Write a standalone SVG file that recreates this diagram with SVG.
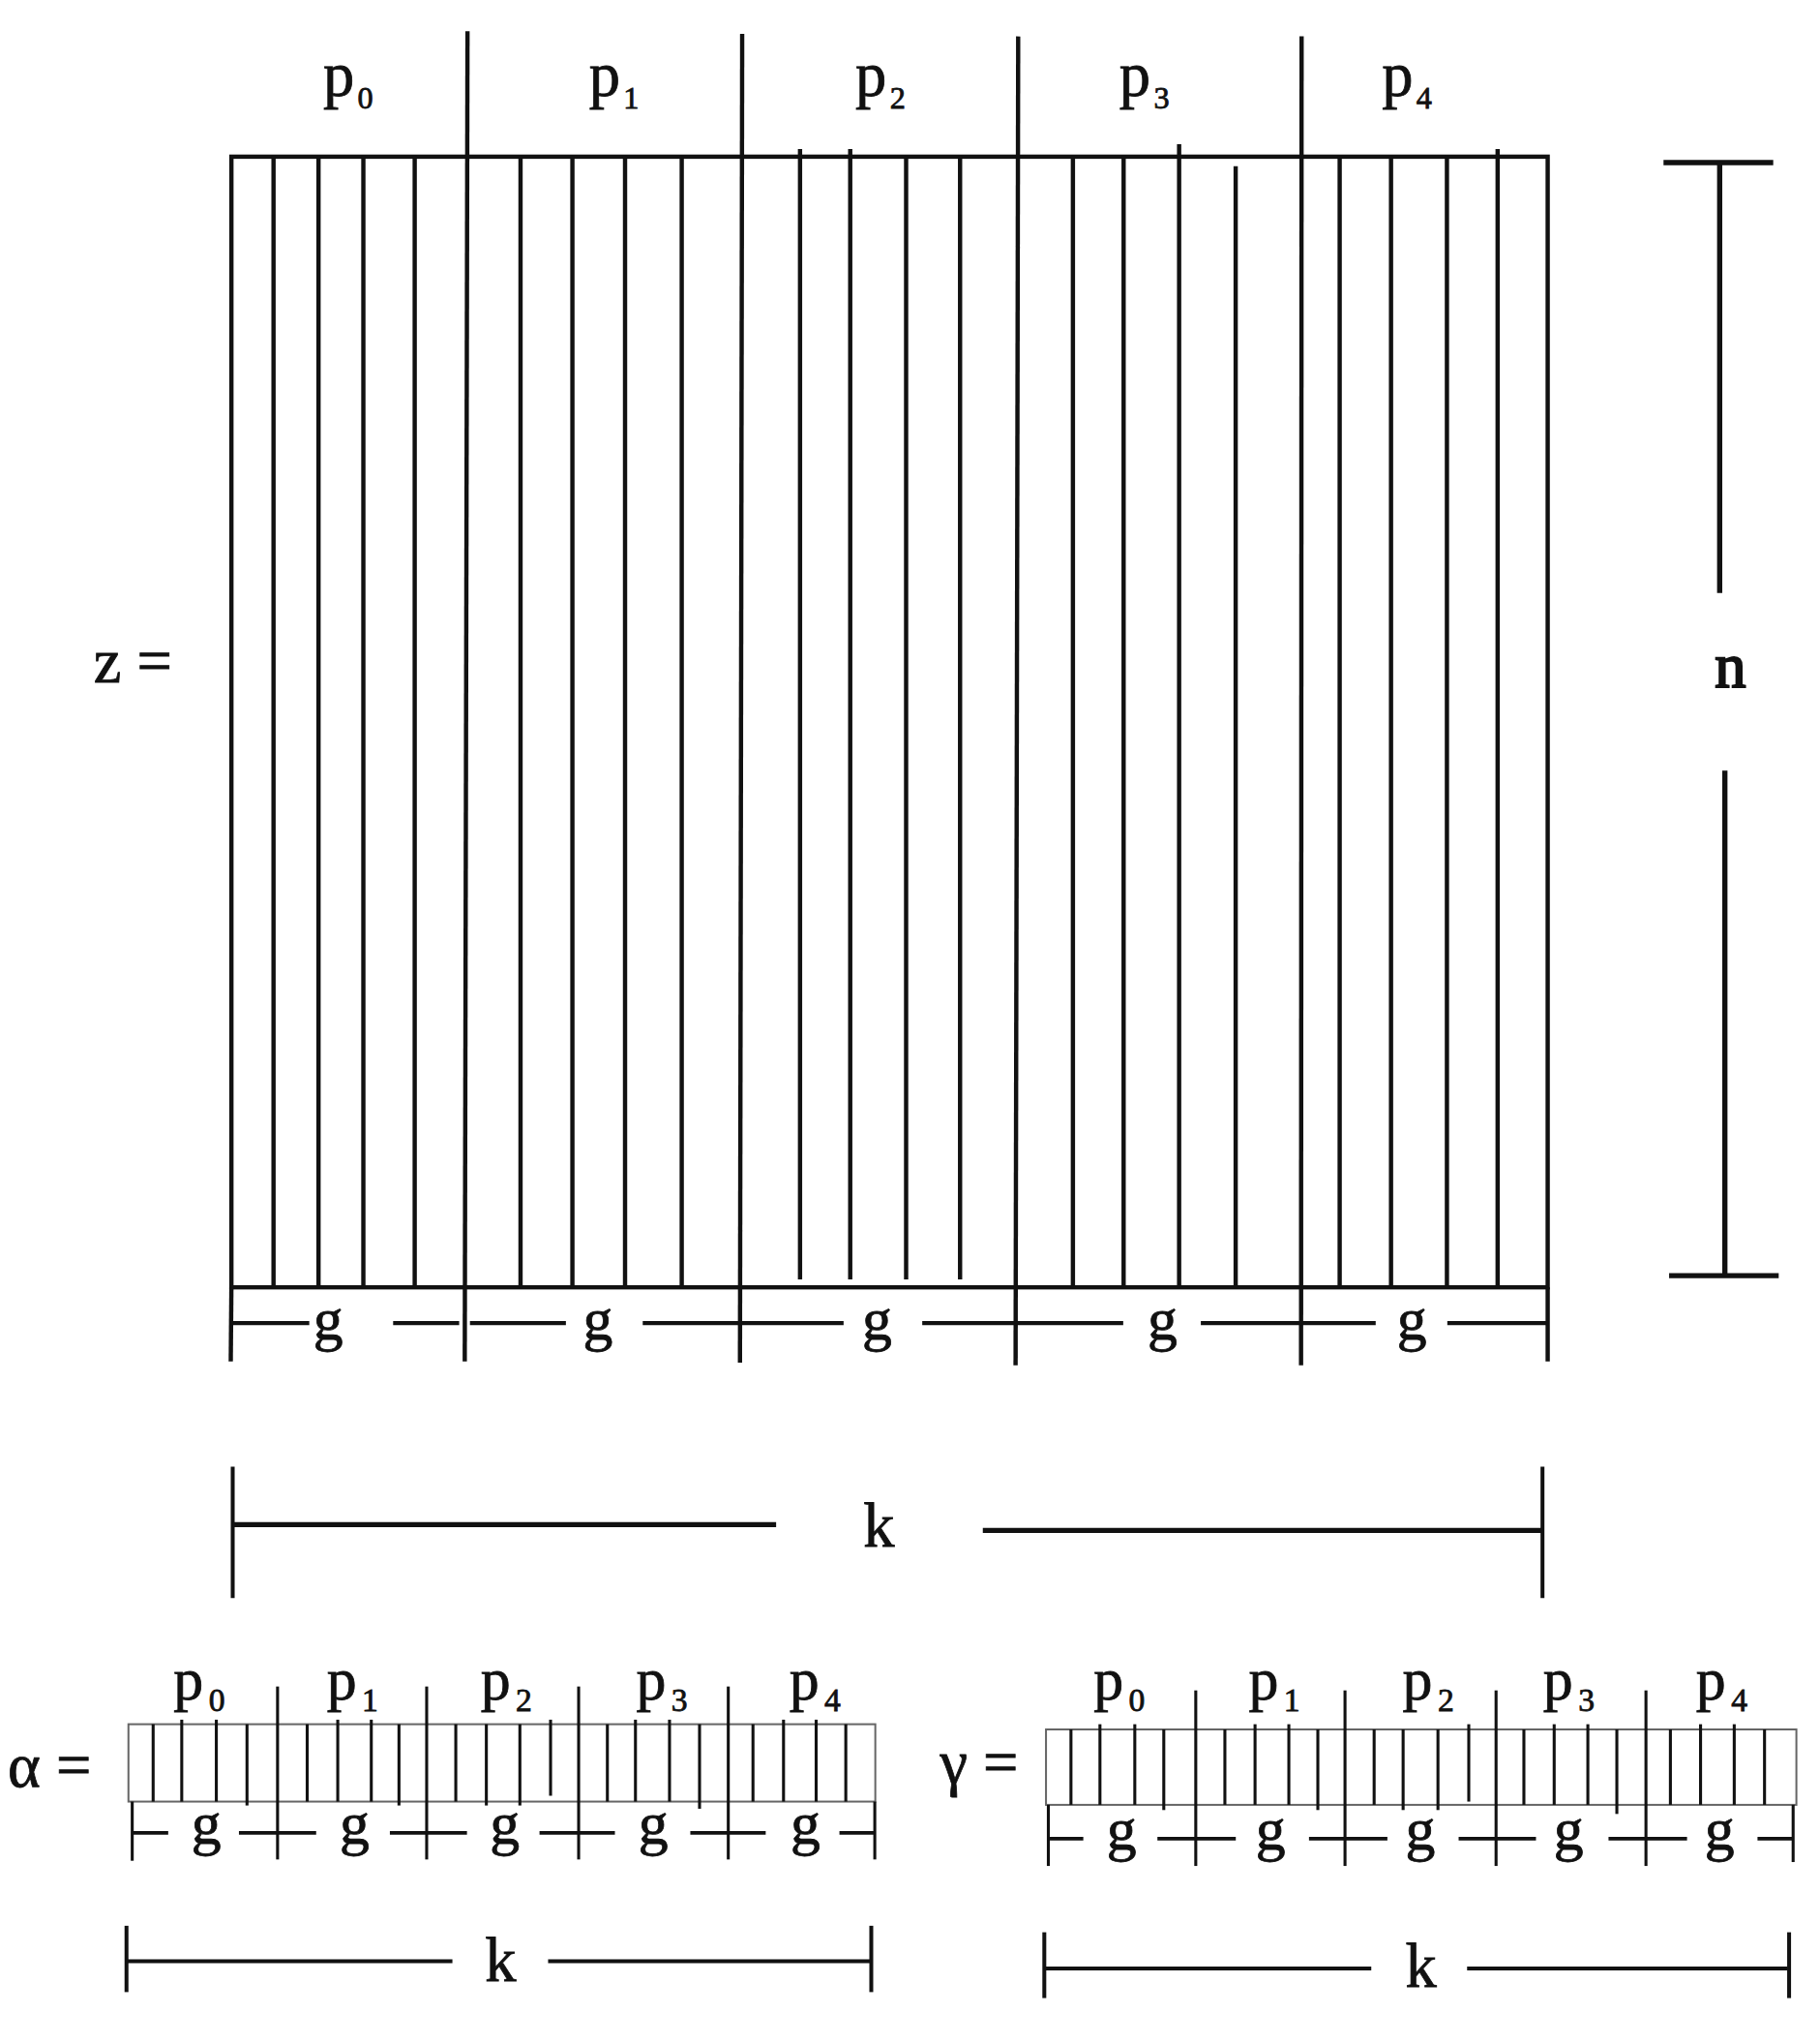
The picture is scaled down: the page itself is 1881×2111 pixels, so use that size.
<svg xmlns="http://www.w3.org/2000/svg" width="1881" height="2111" viewBox="0 0 1881 2111">
<style>
.ln{stroke:#111;stroke-width:3.3;fill:none;stroke-linecap:butt}
.dim{stroke:#111;stroke-width:3.3;fill:none}
.kd{stroke:#111;stroke-width:4;fill:none}
.tk{stroke:#111;stroke-width:3;fill:none}
.bx{stroke:#666;stroke-width:1.5;fill:none}
.sl{stroke:#111;stroke-width:2.3;fill:none}
.sd{stroke:#111;stroke-width:2.8;fill:none}
.t{font-family:"Liberation Serif","Times New Roman",serif;fill:#111;stroke:#111;stroke-width:0.6}
.big{font-size:48px}
.sub{font-size:24px}
.mid{font-size:46px}
.ssub{font-size:25px}
</style>
<rect width="1881" height="2111" fill="#fff"/>
<g transform="scale(1.3436)">
<g id="matrix-z">
<text class="t big" x="72" y="525">z =</text>
<rect class="ln" x="178" y="120.5" width="1012.5" height="869.5"/>
<g id="z-dividers" class="ln">
<line x1="359.6" y1="24" x2="357.5" y2="1047"/>
<line x1="570.9" y1="26" x2="569.2" y2="1048"/>
<line x1="783.2" y1="28" x2="781.2" y2="1050"/>
<line x1="1001.2" y1="28" x2="1000.8" y2="1050"/>
<line x1="178" y1="990" x2="177.5" y2="1047"/>
<line x1="1190.5" y1="990" x2="1190.5" y2="1047"/>
</g>
<g id="z-columns" class="ln">
<line x1="210.4" y1="120" x2="210.4" y2="990"/>
<line x1="245" y1="120" x2="245" y2="990"/>
<line x1="279.5" y1="120" x2="279.5" y2="990"/>
<line x1="319" y1="120" x2="319" y2="990"/>
<line x1="400.4" y1="120" x2="400.4" y2="990"/>
<line x1="440.3" y1="120" x2="440.3" y2="990"/>
<line x1="480.8" y1="120" x2="480.8" y2="990"/>
<line x1="524.4" y1="120" x2="524.4" y2="990"/>
<line x1="615.4" y1="114.6" x2="615.4" y2="984"/>
<line x1="654" y1="114.6" x2="654" y2="984"/>
<line x1="697" y1="120" x2="697" y2="984"/>
<line x1="738.5" y1="120" x2="738.5" y2="984"/>
<line x1="825.3" y1="120" x2="825.3" y2="990"/>
<line x1="864.3" y1="120" x2="864.3" y2="990"/>
<line x1="907" y1="110.9" x2="907" y2="990"/>
<line x1="950.5" y1="127.8" x2="950.5" y2="990"/>
<line x1="1030.5" y1="120" x2="1030.5" y2="990"/>
<line x1="1070" y1="120" x2="1070" y2="990"/>
<line x1="1113" y1="120" x2="1113" y2="990"/>
<line x1="1152" y1="114.6" x2="1152" y2="990"/>
</g>
<g id="z-labels" class="t">
<text class="big" x="248.6" y="74">p</text><text class="sub" x="275" y="83">0</text>
<text class="big" x="453" y="74">p</text><text class="sub" x="479.5" y="83">1</text>
<text class="big" x="658" y="74">p</text><text class="sub" x="684.5" y="83">2</text>
<text class="big" x="861" y="74">p</text><text class="sub" x="887.5" y="83">3</text>
<text class="big" x="1063" y="74">p</text><text class="sub" x="1089.5" y="83">4</text>
</g>
</g>
<g id="z-dimensions">
<g class="dim">
<line x1="178.8" y1="1017.5" x2="237.9" y2="1017.5"/>
<line x1="302.4" y1="1017.5" x2="353.2" y2="1017.5"/>
<line x1="361.5" y1="1017.5" x2="435.3" y2="1017.5"/>
<line x1="494.4" y1="1017.5" x2="648.9" y2="1017.5"/>
<line x1="709.4" y1="1017.5" x2="864" y2="1017.5"/>
<line x1="923.7" y1="1017.5" x2="1058.2" y2="1017.5"/>
<line x1="1113.3" y1="1017.5" x2="1190.5" y2="1017.5"/>
</g>
<g class="t mid" text-anchor="middle">
<text x="252.5" y="1030">g</text>
<text x="460" y="1030">g</text>
<text x="674.6" y="1030">g</text>
<text x="894.2" y="1030">g</text>
<text x="1086" y="1030">g</text>
</g>
<g class="tk">
<line x1="179" y1="1128" x2="179" y2="1229"/>
<line x1="1186.5" y1="1128" x2="1186.5" y2="1229"/>
</g>
<g class="kd">
<line x1="179" y1="1172.5" x2="597" y2="1172.5"/>
<line x1="756" y1="1177" x2="1187" y2="1177"/>
</g>
<text class="t big" x="664" y="1189.6">k</text>
<g class="kd">
<line x1="1279.6" y1="125" x2="1364" y2="125"/>
<line x1="1322.8" y1="125" x2="1322.8" y2="456"/>
<line x1="1326.8" y1="592.6" x2="1326.8" y2="981"/>
<line x1="1283.9" y1="981" x2="1368.2" y2="981"/>
</g>
<text class="t big" x="1319" y="528.4" style="stroke-width:1.6">n</text>
</g>
<g id="vector-alpha">
<text class="t big" x="6" y="1374">α =</text>
<rect class="bx" x="98.8" y="1326" width="574.5" height="59.5"/>
<g class="sl">
<line x1="117.8" y1="1326" x2="117.8" y2="1385.5"/>
<line x1="139.8" y1="1322.5" x2="139.8" y2="1385.5"/>
<line x1="166.4" y1="1322.5" x2="166.4" y2="1385.5"/>
<line x1="190" y1="1326" x2="190" y2="1388.5"/>
<line x1="236.3" y1="1326" x2="236.3" y2="1385.5"/>
<line x1="259.8" y1="1322.5" x2="259.8" y2="1385.5"/>
<line x1="285.6" y1="1322.5" x2="285.6" y2="1385.5"/>
<line x1="306.9" y1="1326" x2="306.9" y2="1388.5"/>
<line x1="350.6" y1="1326" x2="350.6" y2="1385.5"/>
<line x1="374.1" y1="1326" x2="374.1" y2="1388.5"/>
<line x1="399.9" y1="1326" x2="399.9" y2="1388.5"/>
<line x1="423.5" y1="1322.5" x2="423.5" y2="1381"/>
<line x1="467.2" y1="1326" x2="467.2" y2="1385.5"/>
<line x1="488.8" y1="1322.5" x2="488.8" y2="1385.5"/>
<line x1="515" y1="1322.5" x2="515" y2="1385.5"/>
<line x1="538.1" y1="1326" x2="538.1" y2="1391"/>
<line x1="579.2" y1="1326" x2="579.2" y2="1385.5"/>
<line x1="602.7" y1="1322.5" x2="602.7" y2="1385.5"/>
<line x1="627.8" y1="1322.5" x2="627.8" y2="1385.5"/>
<line x1="650.6" y1="1326" x2="650.6" y2="1385.5"/>
</g>
<g class="sl">
<line x1="213.5" y1="1297" x2="213.5" y2="1430"/>
<line x1="328.2" y1="1297" x2="328.2" y2="1430"/>
<line x1="445.1" y1="1297" x2="445.1" y2="1430"/>
<line x1="560.2" y1="1297" x2="560.2" y2="1430"/>
<line x1="101.7" y1="1385.5" x2="101.7" y2="1431"/>
<line x1="672.9" y1="1385.5" x2="672.9" y2="1430"/>
</g>
<g class="sd">
<line x1="101.7" y1="1409.6" x2="129.4" y2="1409.6"/>
<line x1="183.8" y1="1409.6" x2="243.2" y2="1409.6"/>
<line x1="299.9" y1="1409.6" x2="359.2" y2="1409.6"/>
<line x1="415" y1="1409.6" x2="473" y2="1409.6"/>
<line x1="531" y1="1409.6" x2="589" y2="1409.6"/>
<line x1="645.7" y1="1409.6" x2="672.9" y2="1409.6"/>
</g>
<g class="t mid" text-anchor="middle">
<text x="158.6" y="1418">g</text>
<text x="272.8" y="1418">g</text>
<text x="388.3" y="1418">g</text>
<text x="502.6" y="1418">g</text>
<text x="619.6" y="1418">g</text>
</g>
<g class="t">
<text class="mid" x="133.5" y="1307">p</text><text class="ssub" x="160.5" y="1316">0</text>
<text class="mid" x="251.3" y="1307">p</text><text class="ssub" x="278.3" y="1316">1</text>
<text class="mid" x="369.7" y="1307">p</text><text class="ssub" x="396.7" y="1316">2</text>
<text class="mid" x="489.4" y="1307">p</text><text class="ssub" x="516.4" y="1316">3</text>
<text class="mid" x="607.2" y="1307">p</text><text class="ssub" x="634.2" y="1316">4</text>
</g>
<g class="tk">
<line x1="97.3" y1="1481" x2="97.3" y2="1532"/>
<line x1="670.2" y1="1481" x2="670.2" y2="1532"/>
<line x1="97.3" y1="1508.3" x2="348" y2="1508.3"/>
<line x1="421.6" y1="1508.3" x2="669.3" y2="1508.3"/>
</g>
<text class="t big" x="373" y="1523.8">k</text>
</g>
<g id="vector-gamma">
<text class="t big" x="723" y="1372">γ =</text>
<rect class="bx" x="804.6" y="1330" width="577.2" height="58"/>
<g class="sl">
<line x1="823.8" y1="1330" x2="823.8" y2="1388"/>
<line x1="846.1" y1="1326" x2="846.1" y2="1388"/>
<line x1="872.9" y1="1326" x2="872.9" y2="1388"/>
<line x1="895.2" y1="1330" x2="895.2" y2="1392"/>
<line x1="942.2" y1="1330" x2="942.2" y2="1388"/>
<line x1="965.4" y1="1326" x2="965.4" y2="1388"/>
<line x1="991.4" y1="1326" x2="991.4" y2="1388"/>
<line x1="1013.7" y1="1330" x2="1013.7" y2="1392"/>
<line x1="1057" y1="1330" x2="1057" y2="1388"/>
<line x1="1079.3" y1="1330" x2="1079.3" y2="1392"/>
<line x1="1106.1" y1="1330" x2="1106.1" y2="1392"/>
<line x1="1129.8" y1="1326" x2="1129.8" y2="1385.5"/>
<line x1="1172.2" y1="1330" x2="1172.2" y2="1388"/>
<line x1="1195.5" y1="1326" x2="1195.5" y2="1388"/>
<line x1="1221.4" y1="1326" x2="1221.4" y2="1388"/>
<line x1="1243.7" y1="1330" x2="1243.7" y2="1395"/>
<line x1="1284.9" y1="1330" x2="1284.9" y2="1388"/>
<line x1="1308.1" y1="1326" x2="1308.1" y2="1388"/>
<line x1="1334" y1="1326" x2="1334" y2="1388"/>
<line x1="1357.3" y1="1330" x2="1357.3" y2="1388"/>
</g>
<g class="sl">
<line x1="919.8" y1="1300" x2="919.8" y2="1435"/>
<line x1="1034.6" y1="1300" x2="1034.6" y2="1435"/>
<line x1="1150.8" y1="1300" x2="1150.8" y2="1435"/>
<line x1="1266.1" y1="1300" x2="1266.1" y2="1435"/>
<line x1="806.4" y1="1388" x2="806.4" y2="1435"/>
<line x1="1379.3" y1="1388" x2="1379.3" y2="1432"/>
</g>
<g class="sd">
<line x1="806.4" y1="1414" x2="833.3" y2="1414"/>
<line x1="890.3" y1="1414" x2="950.6" y2="1414"/>
<line x1="1006.9" y1="1414" x2="1067.2" y2="1414"/>
<line x1="1122" y1="1414" x2="1181.5" y2="1414"/>
<line x1="1237.3" y1="1414" x2="1297.7" y2="1414"/>
<line x1="1351.9" y1="1414" x2="1379.3" y2="1414"/>
</g>
<g class="t mid" text-anchor="middle">
<text x="862.7" y="1422">g</text>
<text x="977.4" y="1422">g</text>
<text x="1092.6" y="1422">g</text>
<text x="1206.6" y="1422">g</text>
<text x="1322.8" y="1422">g</text>
</g>
<g class="t">
<text class="mid" x="841.2" y="1307">p</text><text class="ssub" x="868.2" y="1316">0</text>
<text class="mid" x="960.5" y="1307">p</text><text class="ssub" x="987.5" y="1316">1</text>
<text class="mid" x="1078.9" y="1307">p</text><text class="ssub" x="1105.9" y="1316">2</text>
<text class="mid" x="1187" y="1307">p</text><text class="ssub" x="1214" y="1316">3</text>
<text class="mid" x="1304.6" y="1307">p</text><text class="ssub" x="1331.6" y="1316">4</text>
</g>
<g class="tk">
<line x1="803.3" y1="1486" x2="803.3" y2="1536.6"/>
<line x1="1376.2" y1="1486" x2="1376.2" y2="1536.6"/>
<line x1="803.3" y1="1513.9" x2="1054.8" y2="1513.9"/>
<line x1="1128.5" y1="1513.9" x2="1375" y2="1513.9"/>
</g>
<text class="t big" x="1081" y="1528">k</text>
</g>
</g>
</svg>
